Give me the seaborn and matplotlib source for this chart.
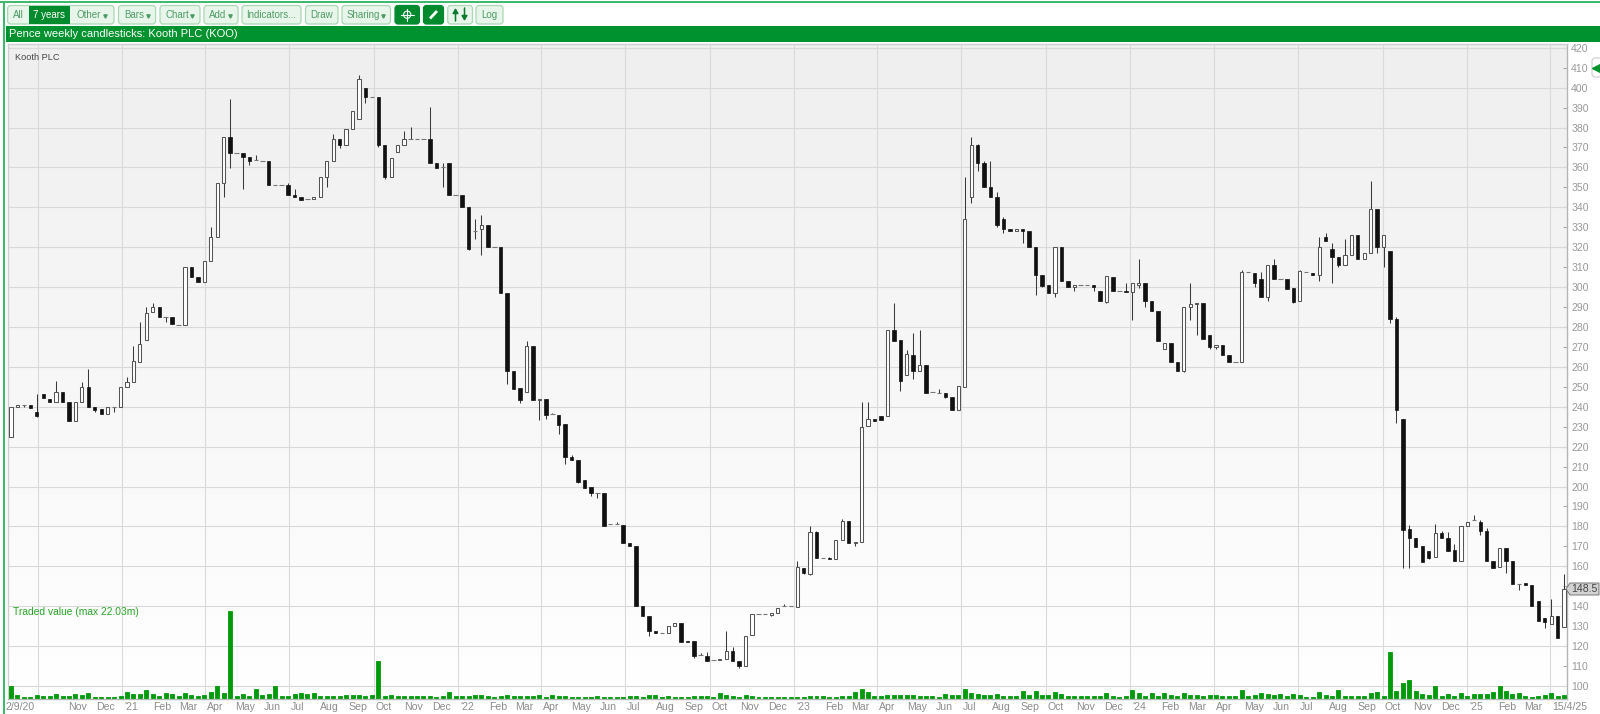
import matplotlib
matplotlib.use("Agg")
import matplotlib.dates as mdates
import matplotlib.pyplot as plt
import numpy as np
import pandas as pd
import seaborn as sns
from matplotlib.patches import FancyBboxPatch, Polygon, Rectangle
from matplotlib.transforms import ScaledTranslation

opens = [
    225, 240, 241, 241, 237.5, 246.2, 244, 242.5, 247.5, 242.4,
    232.7, 242.5, 249.9, 239.7, 238.7, 236.2, 240, 240, 250, 252.6,
    262.6, 273.3, 287.4, 290, 285, 285, 280.8, 280.8, 310.3, 305.2,
    302.7, 313.3, 325, 352, 375.1, 367.1, 367, 365, 363.6, 363.4,
    363.4, 351.2, 351.2, 351, 346.2, 345.2, 344, 344, 345.2, 355.4,
    363.4, 374.3, 371.3, 379.5, 384.1, 399.9, 395.5, 395.3, 371.3, 355.4,
    367.9, 371.3, 374.3, 374.3, 374.3, 374.3, 362.1, 360, 362.1, 346,
    346, 340.2, 328.1, 329.1, 331.3, 320, 320, 297, 258.1, 249.2,
    247.2, 270.3, 243.2, 244, 236.2, 236, 231.2, 214.8, 213.3, 203.3,
    199.9, 196.9, 196.9, 181.4, 181.4, 180.9, 171.5, 170.3, 140.1, 135.1,
    127.4, 126.7, 126.5, 129.9, 131.7, 122.5, 122.4, 115.5, 115.2, 113,
    112.8, 113.3, 117.3, 112.7, 110.2, 125.4, 135.9, 135.9, 135.7, 136.7,
    139.9, 139.9, 139.8, 159.1, 156.1, 177.2, 164, 164.3, 163.5, 173.3,
    182.5, 171.5, 172.3, 230.2, 233.7, 235.4, 235.4, 278.3, 273.3, 255.8,
    266.1, 258.1, 261, 247.2, 247.1, 246.9, 244.9, 238.2, 250.1, 345.2,
    371.4, 362.1, 350.4, 345.2, 334.3, 329.3, 328, 329.1, 328, 320.1,
    306.1, 301, 297.2, 320, 303.1, 300.2, 300.9, 300.9, 300.9, 298,
    292.7, 305.2, 298, 298, 297.4, 300.9, 302.2, 292.9, 287.8, 268.8,
    271.8, 262.3, 257.8, 290, 291.4, 292, 276, 270, 271, 266,
    262.3, 262.3, 307.4, 307.3, 304, 295, 311.1, 304, 304, 299.4,
    292.9, 307.4, 307.3, 306.1, 325, 319.1, 315.3, 311.1, 316.1, 326.3,
    314, 317, 339.4, 320, 318.3, 284, 234.1, 178.6, 174.2, 170,
    167.7, 164.5, 176.7, 174.2, 168, 162.4, 180.2, 183.1, 182.2, 177.7,
    162.4, 159.5, 169.2, 162.4, 151.3, 151.5, 150.7, 142.6, 134.1, 131.3,
    134.9, 129.4,
]
closes = [
    240, 241, 241, 239.5, 235.3, 244.2, 242.5, 247.5, 242.5, 232.9,
    242.5, 250, 240, 238.5, 236.2, 240, 240, 250, 252.6, 262.8,
    271.5, 287, 290, 285.2, 285, 281.5, 280.8, 310.3, 305.2, 302.7,
    313.3, 325, 352, 375.1, 367.1, 367.1, 365, 363.4, 363.6, 363.4,
    351.2, 351.2, 351.2, 346.2, 345.2, 343.9, 344, 345.2, 355.4, 363.4,
    374.1, 371.3, 379.5, 388.2, 404.2, 395.5, 395.5, 371.3, 355.4, 364.9,
    371.4, 374.3, 374.3, 374.3, 374.3, 362.1, 359.9, 360, 346.2, 346,
    340.3, 319.1, 328.1, 331.3, 320.1, 320, 297.2, 258.1, 249.1, 243.2,
    270.3, 243.4, 244, 236, 236.2, 231, 214.8, 213.5, 202.3, 199.1,
    196.6, 196.9, 180, 181.4, 181.4, 171.7, 170.3, 140.1, 135.1, 127.4,
    126.5, 126.7, 129.9, 131.7, 122, 121.9, 115.2, 115.5, 112.7, 113,
    113.5, 117.3, 112.7, 110.2, 125.2, 135.9, 135.9, 135.9, 136.7, 139.2,
    139.9, 139.9, 159.8, 156.5, 177.2, 164, 164, 163.7, 173.3, 182.5,
    171.7, 172.3, 230, 233.7, 233, 233.3, 278.3, 273.1, 252.9, 266.3,
    258.1, 261, 247.1, 247.2, 247.1, 245, 238.2, 250.2, 334.3, 371.4,
    362.2, 350.4, 345.2, 331.1, 329.3, 328, 329.3, 328.1, 320.1, 306.1,
    300.7, 297.2, 320, 303.1, 300.2, 300.9, 300.9, 300.9, 300.2, 293,
    305.4, 298, 298, 297.4, 302.2, 302.2, 293, 288, 273.1, 272,
    262.3, 258.1, 290, 291.4, 292.2, 274, 270, 271, 266.1, 262.3,
    262.3, 307.4, 307.4, 302.2, 295, 311.1, 304.1, 304, 299.2, 292.7,
    308.3, 307.4, 306.1, 320, 323.3, 315.3, 311.1, 316.1, 326.3, 314.1,
    317, 339.4, 320, 326.3, 284.2, 238.2, 178.4, 174.2, 169.9, 162,
    164.4, 176.6, 174.2, 167.9, 162.4, 180.2, 182.2, 183.1, 177.7, 162.4,
    159.2, 169.2, 162.4, 151.2, 151.3, 150.8, 140.3, 132.6, 132.1, 134.9,
    124.1, 148.5,
]
highs = [
    240, 241, 241, 241, 246.2, 246.2, 244, 253, 247.5, 242.4,
    242.5, 252.6, 259, 239.7, 238.7, 240, 240, 250, 255, 270.5,
    282.5, 290, 292.2, 290, 285, 285, 280.8, 310.3, 310.3, 305.2,
    313.3, 330, 352, 375.1, 394.2, 367.1, 367, 365, 366, 363.4,
    363.4, 351.2, 351.2, 352, 349, 345.2, 344, 345.2, 355.4, 363.4,
    377, 374.3, 379.5, 388.2, 406.4, 399.9, 395.5, 395.3, 371.3, 364.9,
    371.4, 378.3, 380.1, 374.3, 374.3, 390.3, 362.1, 362, 362.1, 346,
    346, 340.2, 334.2, 336, 331.3, 320, 320, 297, 258.1, 249.2,
    273.1, 270.3, 244, 244, 237, 236, 231.2, 215.8, 213.3, 203.3,
    199.9, 196.9, 196.9, 181.4, 182, 180.9, 171.5, 170.3, 140.1, 135.1,
    127.4, 126.7, 129.9, 131.7, 131.7, 122.5, 122.4, 116.7, 117.2, 113,
    113.5, 127.5, 119.7, 112.7, 125.2, 135.9, 135.9, 135.9, 136.7, 139.2,
    141.1, 139.9, 162.5, 159.1, 180.4, 177.7, 164, 164.8, 173.3, 183.5,
    182.5, 172.3, 242.2, 242.6, 233.7, 235.4, 278.3, 292.2, 273.3, 268.5,
    277.1, 278.5, 261, 247.2, 249, 246.9, 244.9, 250.2, 355.4, 375.1,
    372, 363.4, 363.4, 347.5, 335, 329.3, 329.3, 329.1, 328, 320.1,
    306.1, 301, 320, 320, 303.1, 300.9, 300.9, 300.9, 300.9, 298,
    305.4, 305.2, 298, 302, 302.2, 313.9, 302.2, 292.9, 287.8, 272,
    271.8, 262.3, 290, 302.2, 292.2, 292, 276, 271, 271, 266,
    262.3, 308.4, 307.4, 307.3, 307.4, 311.1, 314.1, 304, 304, 299.4,
    308.6, 307.4, 307.3, 325, 327, 322, 315.3, 324.1, 326.3, 326.3,
    317, 353.2, 339.4, 326.3, 318.3, 285, 234.1, 180.6, 174.2, 170,
    167.7, 181.1, 177.5, 177.2, 171.2, 180.2, 182.2, 185.8, 183.2, 179.2,
    162.4, 169.2, 169.2, 162.4, 151.3, 151.5, 150.7, 142.6, 134.1, 143.6,
    134.9, 156.2,
]
lows = [
    225, 240, 240, 239.5, 235, 244.2, 242.5, 242.5, 242.5, 232.9,
    232.7, 242.5, 240, 237.4, 236.2, 236.2, 237.5, 240, 250, 252.6,
    262.6, 273.3, 287.4, 285.2, 282.3, 281.5, 280.8, 280.8, 305.2, 302.7,
    302.7, 313.3, 325, 345.2, 359.9, 367.1, 349, 361.2, 363.6, 363.4,
    351.2, 351.2, 351.2, 346.2, 345.2, 343.9, 344, 344, 345.2, 350.4,
    363.4, 369.9, 371.3, 379.5, 384.1, 392.2, 395.5, 370.1, 354, 355.4,
    367.9, 371.3, 374.3, 374.3, 374.3, 362.1, 359.9, 350.4, 346.2, 346,
    340.3, 318.5, 324.3, 316.3, 320.1, 320, 297.2, 251.2, 249.1, 242,
    247.2, 243.4, 233.2, 234, 236.2, 226.4, 211.3, 213.5, 201.7, 199.1,
    195.2, 194.1, 180, 181.4, 181.4, 171.7, 170.3, 140.1, 135.1, 125,
    126.5, 126.7, 126.5, 129.9, 122, 121.9, 114.2, 115.5, 112.7, 113,
    112.8, 113.3, 112.7, 108.8, 110.2, 125.4, 135.9, 135.9, 134.9, 136.7,
    139.9, 139.9, 139.8, 156, 155.5, 164, 164, 163.7, 163.5, 173.3,
    171.7, 170.3, 172.3, 230.2, 233, 233.3, 235.4, 273.1, 247.9, 255.8,
    254, 258.1, 247.1, 247.2, 247.1, 244.2, 238.2, 238.2, 250.1, 342.3,
    358.4, 350.4, 345.2, 330, 327, 328, 328, 322, 320.1, 295.9,
    300.2, 297.2, 295, 303.1, 300.2, 298, 300.9, 300.9, 298.2, 293,
    292.2, 298, 298, 297.4, 283.3, 299.4, 290.2, 288, 273.1, 268.8,
    262.3, 258.1, 257.3, 283.3, 276.1, 274, 269, 269, 266.1, 262.3,
    262.3, 262.3, 307.4, 300.2, 295, 293, 304.1, 304, 299.2, 292.2,
    292.9, 307.4, 306.1, 303.1, 323.3, 302.2, 310.3, 311.1, 316.1, 314.1,
    314, 317, 317, 310.3, 281.9, 232, 159, 159, 169.9, 162,
    163.5, 164.5, 174.2, 167.9, 162.4, 162.4, 180.2, 183.1, 175.7, 162.4,
    159.2, 159.5, 156.5, 151.2, 148, 150.8, 140.3, 132.6, 129.3, 131.3,
    124.1, 129.4,
]
# traded value, millions
volumes = [
    3.0, .75, .35, .35, .85, .6, .6, 1.0, .6, .6,
    1.0, .85, 1.25, .35, .35, .35, .35, .6, 1.5, 1.1,
    1.1, 2.15, 1.1, .6, 1.25, 1.0, .6, 1.25, .65, .6,
    .65, 1.5, 3.0, 1.35, 22.03, .6, 1.0, .6, 2.35, .65,
    1.1, 3.15, .4, .6, 1.1, 1.25, 1.1, 1.25, .6, .6,
    .6, .6, .65, .65, .65, .6, .85, 9.36, .6, .65,
    .42, .42, .5, .5, .5, .5, .33, .58, 1.5, .5,
    .58, .58, .75, .75, .58, .33, .42, .75, .5, .5,
    .5, .5, .75, .25, .67, .58, .5, .33, .25, .25,
    .25, .42, .25, .25, .25, .25, .42, .42, .33, .83,
    .83, .33, .42, .25, .33, .25, .5, .58, .5, .25,
    1.17, .83, .5, .33, .67, .5, .25, .25, .25, .25,
    .25, .25, .33, .33, .5, .5, .5, .25, .33, .5,
    .58, 1.5, 2.25, 1.5, .58, .42, .83, .83, .83, .67,
    .83, .58, .58, .5, .33, 1.0, .67, .67, 2.25, 1.25,
    .92, .75, .67, .92, .58, .42, .58, 1.83, .67, 1.83,
    .67, .67, 1.5, 1.0, .42, .5, .42, .5, .42, .42,
    1.25, .5, .33, .5, 2.08, 1.25, .58, 1.25, .58, 1.25,
    .75, .42, 1.25, .75, .75, .58, .75, .75, .5, .5,
    .5, 2.08, .58, .67, 1.17, .92, .75, .92, .5, .92,
    .75, .25, .25, 1.42, .75, .5, 2.08, .58, .58, .5,
    .5, 1.25, 1.42, .58, 11.6, 1.83, 3.92, 4.5, 1.67, 1.0,
    .75, 3.08, .5, .92, .5, 1.25, .58, .92, .92, .92,
    1.5, 3.08, 1.83, .92, 1.17, .5, .25, .5, .75, 1.25,
    .58, .75,
]

tick_labels = [
    "2/9/20", "Nov", "Dec", "'21", "Feb", "Mar", "Apr", "May", "Jun", "Jul", "Aug", "Sep", "Oct",
    "Nov", "Dec", "'22", "Feb", "Mar", "Apr", "May", "Jun", "Jul", "Aug", "Sep", "Oct",
    "Nov", "Dec", "'23", "Feb", "Mar", "Apr", "May", "Jun", "Jul", "Aug", "Sep", "Oct",
    "Nov", "Dec", "'24", "Feb", "Mar", "Apr", "May", "Jun", "Jul", "Aug", "Sep", "Oct",
    "Nov", "Dec", "'25", "Feb", "Mar", "15/4/25",
]
buttons = [
    ("Bars", 118.5, 155.6, True), ("Chart", 160, 200, True), ("Add", 204, 238, True),
    ("Indicators...", 242, 301, False), ("Draw", 305.5, 338, False),
    ("Sharing", 342, 390.5, True), ("Log", 476, 503, False),
]

GREEN = "#00922e"
LIGHT = "#e8f5ea"
EDGE = "#a9d9b4"
BTN_TEXT = "#4f9c66"
W, H = 1600, 714
LEFT, RIGHT, TOP, BOTTOM = 8, 1567, 44, 699

sns.set_theme(style="white", font="Liberation Sans")
fig = plt.figure(figsize=(W / 100, H / 100), dpi=100, facecolor="white")
ax = fig.add_axes([LEFT / W, 1 - BOTTOM / H, (RIGHT - LEFT) / W, (BOTTOM - TOP) / H])
ax2 = ax.twinx()
ax.yaxis.tick_right()

dates = pd.date_range("2020-09-02", periods=len(opens), freq="7D")
xs = mdates.date2num(dates)
o, c, hi, lo = map(np.array, (opens, closes, highs, lows))

# background fade, light grey at the top to white
grad = np.linspace(0, 1, 256).reshape(-1, 1)
ax.imshow(grad, cmap=sns.blend_palette(["#efefef", "#ffffff"], as_cmap=True), aspect="auto",
          extent=(0, 1, 0, 1), origin="upper", transform=ax.transAxes, zorder=0)

for v in range(100, 421, 20):
    ax.axhline(v, color="#d9d9d9", lw=0.8, zorder=1)
for d in pd.date_range("2020-10-01", "2025-04-01", freq="QS"):
    ax.axvline(mdates.date2num(d), color="#dadada", lw=0.8, zorder=1)

ax.vlines(xs, lo, hi, color="#3a3a3a", lw=0.75, zorder=2)
up = c > o
down = c < o
flat = c == o
ax.bar(xs[up], (c - o)[up], bottom=o[up], width=3.5, facecolor="white", edgecolor="#555555", lw=0.75, zorder=3)
ax.bar(xs[down], (o - c)[down], bottom=c[down], width=3.7, facecolor="#111111", edgecolor="#111111", lw=0.5, zorder=3)
ax.hlines(o[flat], xs[flat] - 2.4, xs[flat] + 2.4, color="#777777", lw=0.8, zorder=3)

vol = pd.DataFrame({"x": xs, "value": volumes})
# the thin edge keeps the smallest bars from vanishing at this pixel size
sns.barplot(data=vol, x="x", y="value", native_scale=True, width=0.62, color="#009a0a", saturation=1,
            errorbar=None, edgecolor="#009a0a", linewidth=0.6, ax=ax2)
# bars stand one pixel above the bottom spine
ax2.set_ylim(-0.25, 22.03 * (BOTTOM - TOP) / 87 - 0.25)
ax2.yaxis.set_visible(False)
ax2.set_xlabel("")
for s in ax2.spines.values():
    s.set_visible(False)

px_per_day = (1564 - 11) / (241 * 7)
ax.set_xlim(xs[0] - 3 / px_per_day, xs[-1] + 3 / px_per_day)
ax.set_ylim(93.45, 421.9)

tick_dates = [pd.Timestamp("2020-09-02")] + list(pd.date_range("2020-11-01", "2025-04-01", freq="MS"))
ax.set_xticks(mdates.date2num(tick_dates))
ax.set_xticklabels(tick_labels, ha="left", fontsize=7.6, color="#8c8c8c")
ax.tick_params(axis="x", length=0, pad=2.5)
for i, label in enumerate(ax.get_xticklabels()):
    dx = -5 if i == 0 else 2
    label.set_transform(label.get_transform() + ScaledTranslation(dx / 100, 0, fig.dpi_scale_trans))

# 150 sits behind the last-price tag in the reference
y_ticks = list(range(100, 421, 10))
ax.set_yticks(y_ticks)
ax.set_yticklabels(["" if v == 150 else str(v) for v in y_ticks])
ax.tick_params(axis="y", which="major", direction="in", length=3, width=0.8, color="#aaaaaa",
               labelcolor="#999999", labelsize=7.6, pad=3, right=True, left=False)
ax.set_ylabel("")
for name, s in ax.spines.items():
    s.set_visible(True)
    s.set_color("#b5b5b5" if name in ("right", "bottom") else "#cfcfcf")
    s.set_linewidth(1.0)

overlay = fig.add_axes([0, 0, 1, 1], zorder=5)
overlay.set_xlim(0, W)
overlay.set_ylim(H, 0)
overlay.axis("off")


def button(x0, x1, fill=LIGHT, edge=EDGE, y0=5.5, y1=24):
    overlay.add_patch(FancyBboxPatch((x0 + 2, y0 + 2), x1 - x0 - 4, y1 - y0 - 4, boxstyle="round,pad=2,rounding_size=3",
                                     facecolor=fill, edgecolor=edge, lw=0.9))


def btn_text(x, s, color=BTN_TEXT, ha="center"):
    overlay.text(x, 15, s, color=color, fontsize=7, ha=ha, va="center", family="Liberation Sans")


# outer frame and header band
overlay.add_patch(Rectangle((0, 1), W, 1.6, facecolor="#3dba6c", edgecolor="none"))
overlay.add_patch(Rectangle((3, 1), 2.2, H, facecolor="#3dba6c", edgecolor="none"))
overlay.add_patch(Rectangle((6, 26), W - 6, 16, facecolor=GREEN, edgecolor="none"))
overlay.text(9, 34.3, "Pence weekly candlesticks: Kooth PLC (KOO)", color="white", fontsize=8.05, va="center",
             family="Liberation Sans")

# toolbar
button(7.6, 114)
overlay.add_patch(Rectangle((28.6, 6), 41, 17.5, facecolor="#008a2e", edgecolor="none"))
btn_text(18, "All")
btn_text(49, "7 years", color="white")
btn_text(89, "Other")
overlay.plot([105], [15.8], marker="v", ms=2.4, color=BTN_TEXT)
for name, x0, x1, caret in buttons:
    button(x0, x1)
    if caret:
        btn_text((x0 + x1) / 2 - 3, name)
        overlay.plot([x1 - 8], [15.8], marker="v", ms=2.4, color=BTN_TEXT)
    else:
        btn_text((x0 + x1) / 2, name)

button(395, 419.4, fill="#008a2e", edge="#008a2e")
overlay.add_patch(plt.Circle((407.2, 14.7), 3.6, fill=False, ec="white", lw=0.8))
overlay.plot([400.5, 414], [14.7, 14.7], color="white", lw=0.8)
overlay.plot([407.2, 407.2], [8.5, 21], color="white", lw=0.8)
button(423.5, 443.5, fill="#008a2e", edge="#008a2e")
overlay.plot([430, 437], [18.5, 11], color="white", lw=2, solid_capstyle="butt")
button(447.7, 472.5)
arrow_style = dict(arrowstyle="-|>,head_width=0.14,head_length=0.24", color="#0a7a2e", lw=1.1, shrinkA=0, shrinkB=0)
overlay.annotate("", (455.5, 8), (455.5, 21), arrowprops=arrow_style)
overlay.annotate("", (464.5, 21), (464.5, 8), arrowprops=arrow_style)

# labels on the plot
overlay.text(15, 57.5, "Kooth PLC", color="#444444", fontsize=6.6, va="center", family="Liberation Sans")
overlay.text(13, 612, "Traded value (max 22.03m)", color="#2aa52a", fontsize=7.4, va="center", family="Liberation Sans")

# last price tag and side tab
overlay.add_patch(Polygon([(1566, 589), (1570, 583), (1599, 583), (1599, 595), (1570, 595)], closed=True,
                          facecolor="#d2d2d2", edgecolor="#777777", lw=0.7))
overlay.text(1584.5, 589.3, "148.5", color="#444444", fontsize=7.6, ha="center", va="center", family="Liberation Sans")
overlay.add_patch(FancyBboxPatch((1593, 59), 12, 17, boxstyle="round,pad=1,rounding_size=3", facecolor="white",
                                 edgecolor="#cccccc", lw=0.8))
overlay.plot([1596], [67.5], marker="<", ms=5.5, color=GREEN)

fig.savefig("out.png", dpi=100)
